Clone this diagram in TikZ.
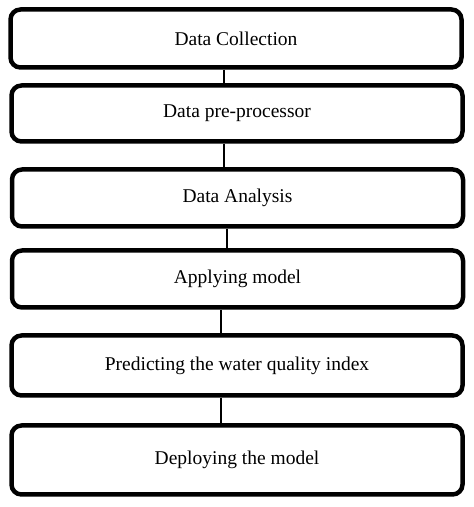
\documentclass[tikz,border=0pt]{standalone}
\usepackage{fontspec}
\setmainfont{Liberation Serif}
\begin{document}
\begin{tikzpicture}[x=1pt, y=1pt,
  stepbox/.style={draw, line width=4.5pt, rounded corners=10pt, minimum width=451pt, inner sep=0pt, align=center, font=\fontsize{19.5}{22}\selectfont},
  link/.style={line width=2pt}]
% Fix the page size
\useasboundingbox (0, 0) rectangle (474, 507);

% Draw the boxes
\node[stepbox, minimum height=58pt] (collect) at (236, 468.5) {Data Collection};
\node[stepbox, minimum height=56pt] (preproc) at (237, 393.5) {Data pre-processor};
\node[stepbox, minimum height=57pt] (analysis) at (237.5, 309) {Data Analysis};
\node[stepbox, minimum height=57pt] (apply) at (237.5, 228) {Applying model};
\node[stepbox, minimum height=60pt] (predict) at (237, 141.5) {Predicting the water quality index};
\node[stepbox, minimum height=69pt] (deploy) at (237, 47) {Deploying the model};

% Draw the links between the boxes
\draw[link] ([xshift=-12pt]collect.south) -- ([xshift=-12pt]collect.south |- preproc.north);
\draw[link] ([xshift=-13pt]preproc.south) -- ([xshift=-13pt]preproc.south |- analysis.north);
\draw[link] ([xshift=-10.5pt]analysis.south) -- ([xshift=-10.5pt]analysis.south |- apply.north);
\draw[link] ([xshift=-16.5pt]apply.south) -- ([xshift=-16.5pt]apply.south |- predict.north);
\draw[link] ([xshift=-16pt]predict.south) -- ([xshift=-16pt]predict.south |- deploy.north);
\end{tikzpicture}
\end{document}
